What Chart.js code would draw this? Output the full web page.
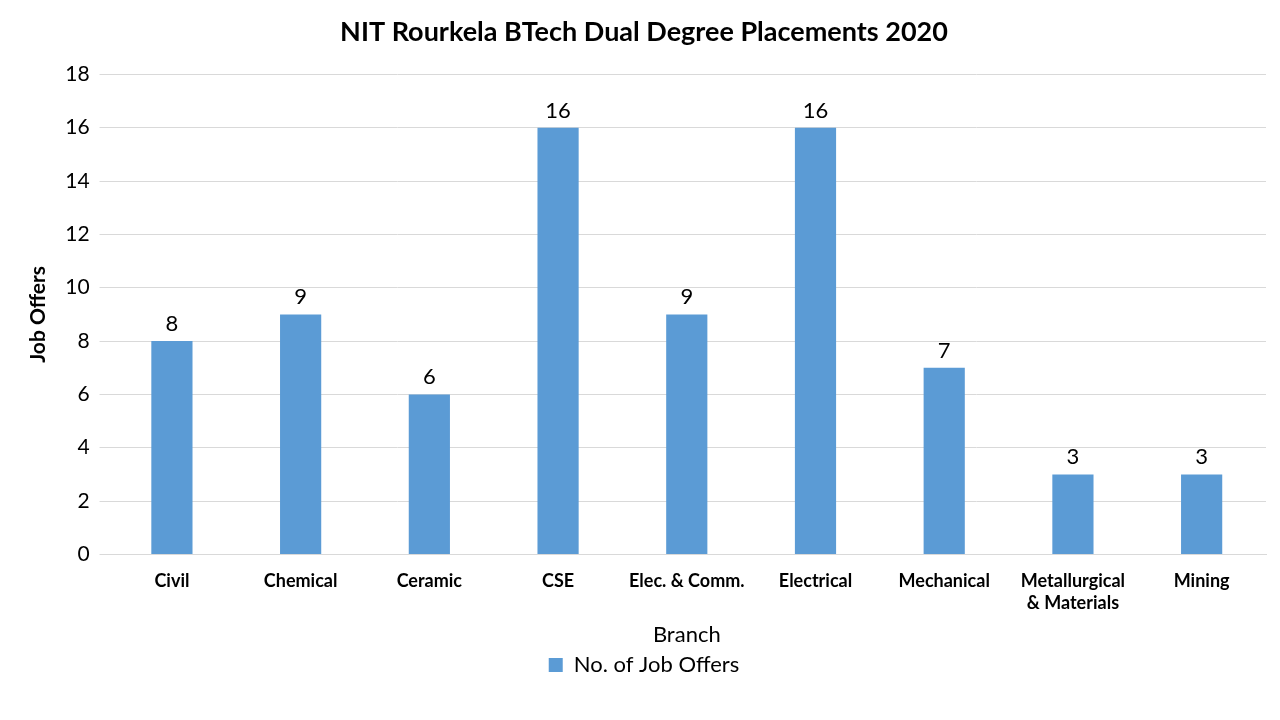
<!DOCTYPE html>
<html><head><meta charset="utf-8">
<script src="https://cdn.jsdelivr.net/npm/chart.js@4"></script>
<style>html,body{margin:0;background:#fff;}#w{width:1280px;height:720px;}</style>
</head><body><div id="w"><canvas id="c"></canvas></div>
<script>
const categories = ["Civil","Chemical","Ceramic","CSE","Elec. & Comm.","Electrical","Mechanical",["Metallurgical","& Materials"],"Mining"];
const jobOffers = [8,9,6,16,9,16,7,3,3];
const yTicks = [0,2,4,6,8,10,12,14,16,18];
const F = "Lato, 'Open Sans', sans-serif";
const labelsPlugin = {
  id:'vals',
  afterDatasetsDraw(chart){
    const ctx = chart.ctx, meta = chart.getDatasetMeta(0);
    ctx.save(); ctx.font = "22px " + F; ctx.fillStyle="#000"; ctx.textAlign="center"; ctx.textBaseline="bottom";
    meta.data.forEach((b,i)=>ctx.fillText(jobOffers[i], b.x, b.y-6));
    ctx.restore();
  }
};
new Chart(document.getElementById('c'),{
  type:'bar',
  data:{labels:categories,datasets:[{label:'No. of Job Offers',data:jobOffers,backgroundColor:'#5B9BD5',barPercentage:0.64,categoryPercentage:0.5}]},
  options:{responsive:true,maintainAspectRatio:false,animation:false,
    layout:{padding:{left:22,right:14,top:6,bottom:34}},
    plugins:{
      title:{display:true,text:'NIT Rourkela BTech Dual Degree Placements 2020',font:{family:F,size:27,weight:'bold'},color:'#000',padding:{top:10,bottom:26}},
      legend:{position:'bottom',labels:{font:{family:F,size:22},color:'#000',boxWidth:14,boxHeight:14,padding:6}},
      tooltip:{enabled:false}
    },
    scales:{
      y:{min:0,max:18,afterBuildTicks:a=>{a.ticks=yTicks.map(v=>({value:v}));},
        ticks:{font:{family:F,size:21},color:'#000',padding:10},
        grid:{color:'#d9d9d9'},border:{display:false},
        title:{display:true,text:'Job Offers',font:{family:F,size:21,weight:'bold'},color:'#000'}},
      x:{grid:{display:false},border:{color:'#d9d9d9'},
        ticks:{font:{family:F,size:18,weight:'bold'},color:'#000',maxRotation:0,autoSkip:false,padding:8},
        title:{display:true,text:'Branch',font:{family:F,size:22},color:'#000',padding:{top:0,bottom:0}}}
    }
  },
  plugins:[labelsPlugin]
});
</script></body></html>
